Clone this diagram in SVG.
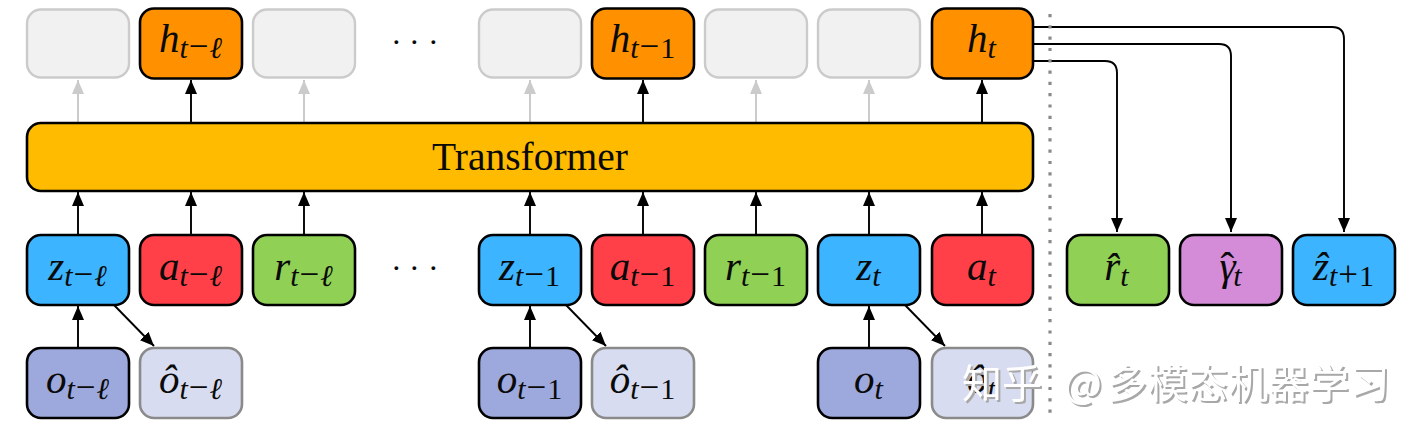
<svg xmlns="http://www.w3.org/2000/svg" width="1428" height="442" viewBox="0 0 1428 442">
<style>
.b{stroke:#000;stroke-width:2.6}
.e{fill:#f1f1f1;stroke:#cbcbcb;stroke-width:2.4}
.h{fill:#ff9100}.z{fill:#3db4ff}.a{fill:#ff4048}.r{fill:#8fd055}.o{fill:#9da8dc}.g{fill:#d58cd8}
.p{fill:#d8dcf0;stroke:#8a8a8a;stroke-width:2.6}
text{font-family:"Liberation Serif","Times New Roman",serif;fill:#0a0a0a}
.l{font-size:41px;font-style:italic;text-anchor:middle}
.s{font-size:30px;letter-spacing:1px}
.n{font-style:normal}
.m{font-style:normal;font-size:35px}
.c{fill:none;stroke:#000;stroke-width:1.9}
.f{fill:none;stroke:#cbcbcb;stroke-width:2}
.d{font-size:32px}
.w{font-family:"Noto Sans CJK SC",sans-serif;fill:#fff;font-size:40px;filter:drop-shadow(2px 2px 0 #a8a8a8)}
</style>
<defs>
<marker id="k" markerUnits="userSpaceOnUse" markerWidth="14" markerHeight="12" refX="14" refY="6" orient="auto"><path d="M0,0L14,6L0,12Z" fill="#000"/></marker>
<marker id="y" markerUnits="userSpaceOnUse" markerWidth="14" markerHeight="12" refX="14" refY="6" orient="auto"><path d="M0,0L14,6L0,12Z" fill="#cbcbcb"/></marker>
</defs>
<g id="connectors">
<path class="f" marker-end="url(#y)" d="M78,123V80"/>
<path class="f" marker-end="url(#y)" d="M304,123V80"/>
<path class="f" marker-end="url(#y)" d="M530,123V80"/>
<path class="f" marker-end="url(#y)" d="M756,123V80"/>
<path class="f" marker-end="url(#y)" d="M869,123V80"/>
<path class="c" marker-end="url(#k)" d="M191,123V80"/>
<path class="c" marker-end="url(#k)" d="M643,123V80"/>
<path class="c" marker-end="url(#k)" d="M982,123V80"/>
<path class="c" marker-end="url(#k)" d="M78,234V192"/>
<path class="c" marker-end="url(#k)" d="M191,234V192"/>
<path class="c" marker-end="url(#k)" d="M304,234V192"/>
<path class="c" marker-end="url(#k)" d="M530,234V192"/>
<path class="c" marker-end="url(#k)" d="M643,234V192"/>
<path class="c" marker-end="url(#k)" d="M756,234V192"/>
<path class="c" marker-end="url(#k)" d="M869,234V192"/>
<path class="c" marker-end="url(#k)" d="M982,234V192"/>
<path class="c" marker-end="url(#k)" d="M78,347V306"/>
<path class="c" marker-end="url(#k)" d="M530,347V306"/>
<path class="c" marker-end="url(#k)" d="M869,347V306"/>
<path class="c" marker-end="url(#k)" d="M114,305L154,346"/>
<path class="c" marker-end="url(#k)" d="M566,305L606,346"/>
<path class="c" marker-end="url(#k)" d="M905,305L945,346"/>
<path class="c" marker-end="url(#k)" d="M1033,61H1105Q1117,61 1117,73V232"/>
<path class="c" marker-end="url(#k)" d="M1033,44H1219Q1231,44 1231,56V232"/>
<path class="c" marker-end="url(#k)" d="M1033,27H1332Q1344,27 1344,39V232"/>
<path d="M1050,14V418" fill="none" stroke="#8a8a8a" stroke-width="3.2" stroke-dasharray="3.2 8.1"/>
</g>
<g id="e1"><rect class="e" x="27" y="9.500" width="102" height="68" rx="14"/></g>
<g id="h1"><rect class="h b" x="140" y="8.500" width="102" height="70" rx="14"/><text class="l" x="191" y="52">h<tspan class="s" dy="6">t<tspan class="m">−</tspan>ℓ</tspan></text></g>
<g id="e2"><rect class="e" x="253" y="9.500" width="102" height="68" rx="14"/></g>
<g id="dots1"><text class="d" x="391 409 428" y="53">···</text></g>
<g id="e3"><rect class="e" x="479" y="9.500" width="102" height="68" rx="14"/></g>
<g id="h2"><rect class="h b" x="592" y="8.500" width="102" height="70" rx="14"/><text class="l" x="643" y="52">h<tspan class="s" dy="6">t<tspan class="m">−</tspan><tspan class="n">1</tspan></tspan></text></g>
<g id="e4"><rect class="e" x="705" y="9.500" width="102" height="68" rx="14"/></g>
<g id="e5"><rect class="e" x="818" y="9.500" width="102" height="68" rx="14"/></g>
<g id="h3"><rect class="h b" x="932" y="8.500" width="101" height="70" rx="14"/><text class="l" x="982" y="52">h<tspan class="s" dy="6">t</tspan></text></g>
<g id="transformer"><rect class="b" fill="#ffbb00" x="27" y="123" width="1006" height="68" rx="14"/><text x="530" y="170" font-size="39.500" text-anchor="middle">Transformer</text></g>
<g id="z1"><rect class="z b" x="27" y="235" width="102" height="70" rx="14"/><text class="l" x="78" y="280">z<tspan class="s" dy="6">t<tspan class="m">−</tspan>ℓ</tspan></text></g>
<g id="a1"><rect class="a b" x="140" y="235" width="102" height="70" rx="14"/><text class="l" x="191" y="280">a<tspan class="s" dy="6">t<tspan class="m">−</tspan>ℓ</tspan></text></g>
<g id="r1"><rect class="r b" x="253" y="235" width="102" height="70" rx="14"/><text class="l" x="304" y="280">r<tspan class="s" dy="6">t<tspan class="m">−</tspan>ℓ</tspan></text></g>
<g id="dots2"><text class="d" x="391 409 428" y="279">···</text></g>
<g id="z2"><rect class="z b" x="479" y="235" width="102" height="70" rx="14"/><text class="l" x="530" y="280">z<tspan class="s" dy="6">t<tspan class="m">−</tspan><tspan class="n">1</tspan></tspan></text></g>
<g id="a2"><rect class="a b" x="592" y="235" width="102" height="70" rx="14"/><text class="l" x="643" y="280">a<tspan class="s" dy="6">t<tspan class="m">−</tspan><tspan class="n">1</tspan></tspan></text></g>
<g id="r2"><rect class="r b" x="705" y="235" width="102" height="70" rx="14"/><text class="l" x="756" y="280">r<tspan class="s" dy="6">t<tspan class="m">−</tspan><tspan class="n">1</tspan></tspan></text></g>
<g id="z3"><rect class="z b" x="818" y="235" width="102" height="70" rx="14"/><text class="l" x="869" y="280">z<tspan class="s" dy="6">t</tspan></text></g>
<g id="a3"><rect class="a b" x="932" y="235" width="101" height="70" rx="14"/><text class="l" x="982" y="280">a<tspan class="s" dy="6">t</tspan></text></g>
<g id="rhat"><rect class="r b" x="1067" y="235" width="102" height="70" rx="14"/><text class="l" x="1117" y="280">r̂<tspan class="s" dy="6">t</tspan></text></g>
<g id="ghat"><rect class="g b" x="1180" y="235" width="102" height="70" rx="14"/><text class="l" x="1231" y="280">γ<tspan dx="-15" class="n">ˆ</tspan><tspan class="s" dx="-1" dy="6">t</tspan></text></g>
<g id="zhat"><rect class="z b" x="1293" y="235" width="102" height="70" rx="14"/><text class="l" x="1344" y="280">ẑ<tspan class="s" dy="6">t<tspan class="m">+</tspan><tspan class="n">1</tspan></tspan></text></g>
<g id="o1"><rect class="o b" x="27" y="348" width="102" height="70" rx="14"/><text class="l" x="78" y="393">o<tspan class="s" dy="6">t<tspan class="m">−</tspan>ℓ</tspan></text></g>
<g id="ohat1"><rect class="p" x="140" y="348" width="102" height="70" rx="14"/><text class="l" x="191" y="393">ô<tspan class="s" dy="6">t<tspan class="m">−</tspan>ℓ</tspan></text></g>
<g id="o2"><rect class="o b" x="479" y="348" width="102" height="70" rx="14"/><text class="l" x="530" y="393">o<tspan class="s" dy="6">t<tspan class="m">−</tspan><tspan class="n">1</tspan></tspan></text></g>
<g id="ohat2"><rect class="p" x="592" y="348" width="102" height="70" rx="14"/><text class="l" x="643" y="393">ô<tspan class="s" dy="6">t<tspan class="m">−</tspan><tspan class="n">1</tspan></tspan></text></g>
<g id="o3"><rect class="o b" x="818" y="348" width="102" height="70" rx="14"/><text class="l" x="869" y="393">o<tspan class="s" dy="6">t</tspan></text></g>
<g id="ohat3"><rect class="p" x="932" y="348" width="101" height="70" rx="14"/><text class="l" x="982" y="393">ô<tspan class="s" dy="6">t</tspan></text></g>
<g id="watermark"><text class="w" y="398"><tspan x="962">知乎</tspan><tspan x="1064">@</tspan><tspan x="1107" letter-spacing="0.4">多模态机器学习</tspan></text></g>
</svg>
